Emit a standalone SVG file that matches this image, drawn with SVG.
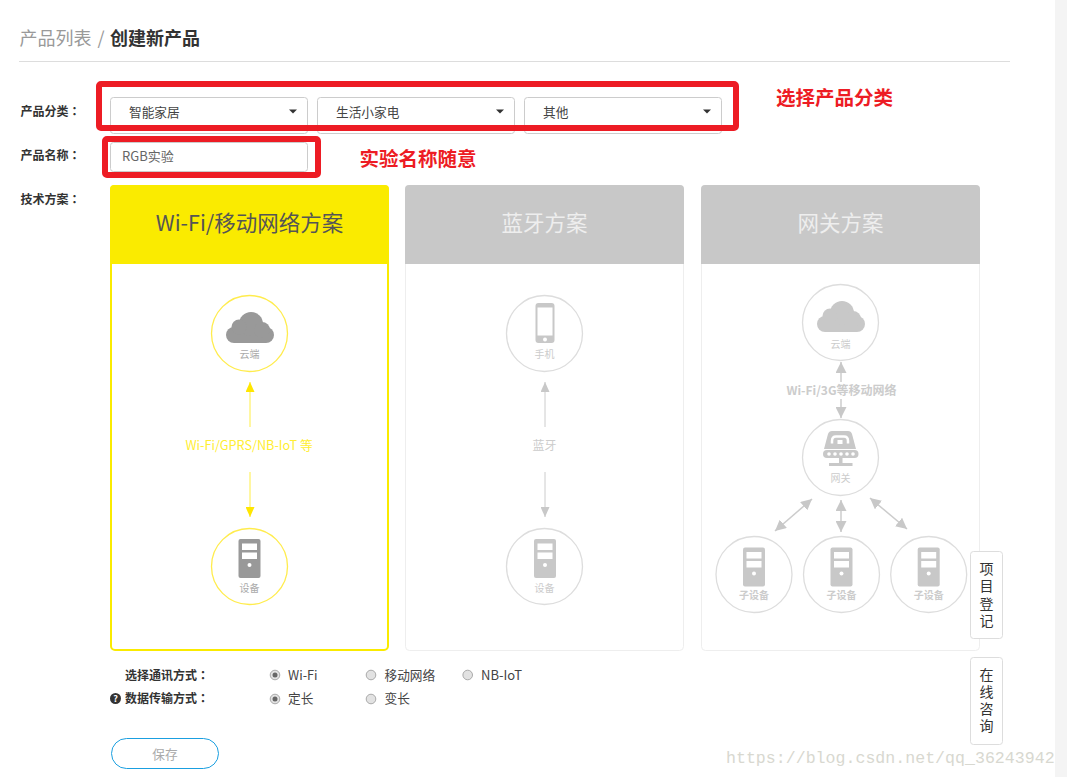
<svg xmlns="http://www.w3.org/2000/svg" width="1067" height="777" viewBox="0 0 1067 777">
<style>
text{font-family:"Noto Sans CJK SC","Liberation Sans",sans-serif}
.lab{font-size:12px;font-weight:700;fill:#333}
.col{font-family:"Noto Sans CJK TC",sans-serif}
.sel{fill:#fff;stroke:#ccc;stroke-width:1}
.seltx{font-size:12.7px;fill:#444}
.red{fill:none;stroke:#ed1c24;stroke-width:6}
.note{font-size:19.5px;font-weight:700;fill:#ed1c24}
.card{fill:#fff;stroke:#eee;stroke-width:1}
.hd{font-size:21.5px;text-anchor:middle;fill:#eee}
.cg{fill:none;stroke:#ddd;stroke-width:1.3}
.cy{fill:none;stroke:#ffec4d;stroke-width:1.3}
.ct{font-size:10px;text-anchor:middle;fill:#ccc}
.ly{stroke:#ffee44;stroke-width:1;fill:none}
.lg{stroke:#ccc;stroke-width:1;fill:none}
.lgb{stroke:#ccc;stroke-width:1.5;fill:none}
.tx{font-size:12.7px;fill:#444}
.ro{fill:#e2e2e2;stroke:#aaa;stroke-width:1}
.side{fill:#fff;stroke:#ddd;stroke-width:1}
.st{font-size:14px;text-anchor:middle;fill:#333}
</style>
<defs>
<marker id="ay" viewBox="0 0 10 9" refX="10" refY="4.5" markerWidth="10" markerHeight="9" markerUnits="userSpaceOnUse" orient="auto-start-reverse"><path d="M0 0L10 4.5L0 9Z" fill="#ffe600"/></marker>
<marker id="ag" viewBox="0 0 10 9" refX="10" refY="4.5" markerWidth="10" markerHeight="9" markerUnits="userSpaceOnUse" orient="auto-start-reverse"><path d="M0 0L10 4.5L0 9Z" fill="#c8c8c8"/></marker>
<marker id="agb" viewBox="0 0 10 10" refX="10" refY="5" markerWidth="11" markerHeight="11" markerUnits="userSpaceOnUse" orient="auto-start-reverse"><path d="M0 0L10 5L0 10Z" fill="#c8c8c8"/></marker>
<g id="cloud"><rect x="0" y="15" width="48" height="16" rx="8"/><circle cx="25" cy="12" r="12"/><circle cx="13" cy="15" r="7.5"/><circle cx="36" cy="18" r="8"/></g>
<g id="server"><rect x="0" y="0" width="22" height="39" rx="2"/><rect x="3.5" y="4.5" width="15" height="6.5" fill="#fff"/><rect x="3.5" y="13.5" width="15" height="6.5" fill="#fff"/><circle cx="11" cy="26" r="2" fill="#fff"/></g>
</defs>

<rect id="scrollbar" x="1055" y="0" width="12" height="777" fill="#f4f4f4"/>

<g id="title">
<text x="19.500" y="45" font-size="18" fill="#999">产品列表 <tspan dx="2">/</tspan></text>
<text x="110" y="45" font-size="18" font-weight="700" fill="#333">创建新产品</text>
<line x1="19" y1="61.500" x2="1010" y2="61.500" stroke="#ddd"/>
</g>

<g id="form-labels">
<text class="lab" x="20.500" y="116">产品分类<tspan class="col">：</tspan></text>
<text class="lab" x="20.500" y="160">产品名称<tspan class="col">：</tspan></text>
<text class="lab" x="20.500" y="204">技术方案<tspan class="col">：</tspan></text>
</g>

<g id="select-1"><rect class="sel" x="110.500" y="97.500" width="197" height="36" rx="3"/><text class="seltx" x="129" y="117">智能家居</text><path d="M289 109.500h8l-4 4z" fill="#333"/></g>
<g id="select-2"><rect class="sel" x="317.500" y="97.500" width="197" height="36" rx="3"/><text class="seltx" x="336" y="117">生活小家电</text><path d="M496 109.500h8l-4 4z" fill="#333"/></g>
<g id="select-3"><rect class="sel" x="524.500" y="97.500" width="197" height="36" rx="3"/><text class="seltx" x="543" y="117">其他</text><path d="M703 109.500h8l-4 4z" fill="#333"/></g>
<g id="input-name"><rect class="sel" x="110.500" y="142.500" width="197" height="29" rx="3"/><text x="122" y="161" font-size="13" fill="#666">RGB实验</text></g>

<g id="callouts">
<rect class="red" x="99" y="84" width="637" height="44" rx="2"/>
<rect class="red" x="105" y="139" width="213" height="36" rx="2"/>
<text class="note" x="776" y="105">选择产品分类</text>
<text class="note" x="359.500" y="166">实验名称随意</text>
</g>

<g id="card-wifi">
<rect x="111" y="186" width="277" height="464" rx="4" fill="#fff" stroke="#faeb00" stroke-width="2"/>
<path d="M110 264V189a4 4 0 0 1 4-4H385a4 4 0 0 1 4 4V264Z" fill="#faeb00"/>
<text class="hd" x="249.500" y="231" style="fill:#555">Wi-Fi/移动网络方案</text>
</g>
<g id="card-bluetooth">
<rect class="card" x="405.500" y="185.500" width="278" height="465" rx="4"/>
<path d="M405 264V189a4 4 0 0 1 4-4H680a4 4 0 0 1 4 4V264Z" fill="#c8c8c8"/>
<text class="hd" x="544.500" y="231">蓝牙方案</text>
</g>
<g id="card-gateway">
<rect class="card" x="701.500" y="185.500" width="278" height="465" rx="4"/>
<path d="M701 264V189a4 4 0 0 1 4-4H976a4 4 0 0 1 4 4V264Z" fill="#c8c8c8"/>
<text class="hd" x="840.500" y="231">网关方案</text>
</g>

<g id="connectors">
<line class="ly" x1="250" y1="427" x2="250" y2="382" marker-end="url(#ay)"/>
<line class="ly" x1="250" y1="472" x2="250" y2="517" marker-end="url(#ay)"/>
<line class="lg" x1="545" y1="427" x2="545" y2="382" marker-end="url(#ag)"/>
<line class="lg" x1="545" y1="472" x2="545" y2="517" marker-end="url(#ag)"/>
<line class="lgb" x1="841" y1="382" x2="841" y2="362" marker-end="url(#agb)"/>
<line class="lgb" x1="841" y1="399" x2="841" y2="418" marker-end="url(#agb)"/>
<line class="lgb" x1="775" y1="531" x2="812" y2="499" marker-start="url(#agb)" marker-end="url(#agb)"/>
<line class="lgb" x1="841" y1="500" x2="841" y2="532" marker-start="url(#agb)" marker-end="url(#agb)"/>
<line class="lgb" x1="870" y1="498" x2="907" y2="529" marker-start="url(#agb)" marker-end="url(#agb)"/>
</g>
<g id="connector-labels">
<text x="249" y="450" font-size="12.700" text-anchor="middle" fill="#ffee33">Wi-Fi/GPRS/NB-IoT 等</text>
<text x="544.500" y="450" font-size="12" text-anchor="middle" fill="#ccc">蓝牙</text>
<text x="841.500" y="395" font-size="12" font-weight="700" text-anchor="middle" fill="#ccc">Wi-Fi/3G等移动网络</text>
</g>

<g id="node-wifi-cloud"><circle class="cy" cx="249.500" cy="333.500" r="38"/><use href="#cloud" x="226" y="312" fill="#999"/><text class="ct" x="249.500" y="358" style="fill:#aaa">云端</text></g>
<g id="node-wifi-device"><circle class="cy" cx="249.500" cy="566.500" r="38"/><use href="#server" x="238.500" y="539" fill="#999"/><text class="ct" x="249.500" y="592" style="fill:#aaa">设备</text></g>

<g id="node-bt-phone"><circle class="cg" cx="544.500" cy="333.500" r="38"/>
<rect x="535.500" y="303" width="19" height="40" rx="3" fill="#c8c8c8"/><rect x="537.500" y="307.500" width="15" height="28" fill="#fff"/><circle cx="545" cy="339.500" r="2" fill="#fff"/>
<text class="ct" x="544.500" y="358">手机</text></g>
<g id="node-bt-device"><circle class="cg" cx="544.500" cy="566.500" r="38"/><use href="#server" x="534" y="539" fill="#c8c8c8"/><text class="ct" x="544.500" y="592">设备</text></g>

<g id="node-gw-cloud"><circle class="cg" cx="840.500" cy="322.500" r="38"/><use href="#cloud" x="817" y="301" fill="#c8c8c8"/><text class="ct" x="840.500" y="348">云端</text></g>
<g id="node-gateway"><circle class="cg" cx="840.500" cy="457.500" r="38"/>
<g transform="translate(823 431)" fill="#c8c8c8"><path d="M1 18L5 3Q6 0 9 0H25Q28 0 29 3L33 18Z"/><path d="M9 12.500V10Q9 5.500 13 5.500H21Q25 5.500 25 10V12.500" fill="none" stroke="#fff" stroke-width="2.500"/><rect x="14.500" y="9" width="5" height="4" fill="#fff"/><rect x="0" y="19" width="35.500" height="8" rx="4"/><g fill="#fff"><circle cx="6" cy="23" r="1.800"/><circle cx="12" cy="23" r="1.800"/><circle cx="18" cy="23" r="1.800"/><circle cx="24" cy="23" r="1.800"/><circle cx="30" cy="23" r="1.800"/></g><rect x="16" y="27" width="3.500" height="5"/><rect x="6" y="32" width="23.500" height="3"/></g>
<text class="ct" x="840.500" y="482">网关</text></g>
<g id="node-sub-1"><circle class="cg" cx="754" cy="574.500" r="38"/><use href="#server" x="743" y="547.500" fill="#c8c8c8"/><text class="ct" x="754" y="599" style="font-weight:700">子设备</text></g>
<g id="node-sub-2"><circle class="cg" cx="841.500" cy="574.500" r="38"/><use href="#server" x="830.500" y="547.500" fill="#c8c8c8"/><text class="ct" x="841.500" y="599" style="font-weight:700">子设备</text></g>
<g id="node-sub-3"><circle class="cg" cx="928.700" cy="574.500" r="38"/><use href="#server" x="917.700" y="547.500" fill="#c8c8c8"/><text class="ct" x="928.700" y="599" style="font-weight:700">子设备</text></g>

<g id="options">
<text class="lab" x="125" y="680">选择通讯方式<tspan class="col">：</tspan></text>
<circle cx="115.500" cy="698.500" r="5.500" fill="#333"/><text x="115.500" y="702" font-size="9" font-weight="700" text-anchor="middle" fill="#fff">?</text>
<text class="lab" x="125" y="703">数据传输方式<tspan class="col">：</tspan></text>
<circle class="ro" cx="275" cy="675" r="4.800"/><circle cx="275" cy="675" r="2.500" fill="#666"/><text class="tx" x="288" y="680">Wi-Fi</text>
<circle class="ro" cx="371" cy="675" r="4.800"/><text class="tx" x="384.500" y="680">移动网络</text>
<circle class="ro" cx="467.700" cy="675" r="4.800"/><text class="tx" x="481" y="680" style="font-size:13px">NB-IoT</text>
<circle class="ro" cx="275" cy="699" r="4.800"/><circle cx="275" cy="699" r="2.500" fill="#666"/><text class="tx" x="288" y="703">定长</text>
<circle class="ro" cx="371" cy="699" r="4.800"/><text class="tx" x="384.500" y="703">变长</text>
</g>

<g id="btn-save"><rect x="111.500" y="738.500" width="107" height="30" rx="15" fill="#fff" stroke="#1a9fe0"/><text x="165" y="759" font-size="12.700" text-anchor="middle" fill="#aaa">保存</text></g>

<g id="btn-register"><rect class="side" x="970.500" y="551.500" width="32" height="87" rx="3"/><text class="st"><tspan x="986.500" y="574">项</tspan><tspan x="986.500" y="591">目</tspan><tspan x="986.500" y="608.500">登</tspan><tspan x="986.500" y="625.500">记</tspan></text></g>
<g id="btn-consult"><rect class="side" x="970.500" y="657.500" width="32" height="87" rx="3"/><text class="st"><tspan x="986.500" y="680">在</tspan><tspan x="986.500" y="697">线</tspan><tspan x="986.500" y="714">咨</tspan><tspan x="986.500" y="731">询</tspan></text></g>

<text id="watermark" x="726" y="763" font-size="16.600" fill="#d8d8d0" style="font-family:'Liberation Mono',monospace">https://blog.csdn.net/qq_36243942</text>
</svg>
